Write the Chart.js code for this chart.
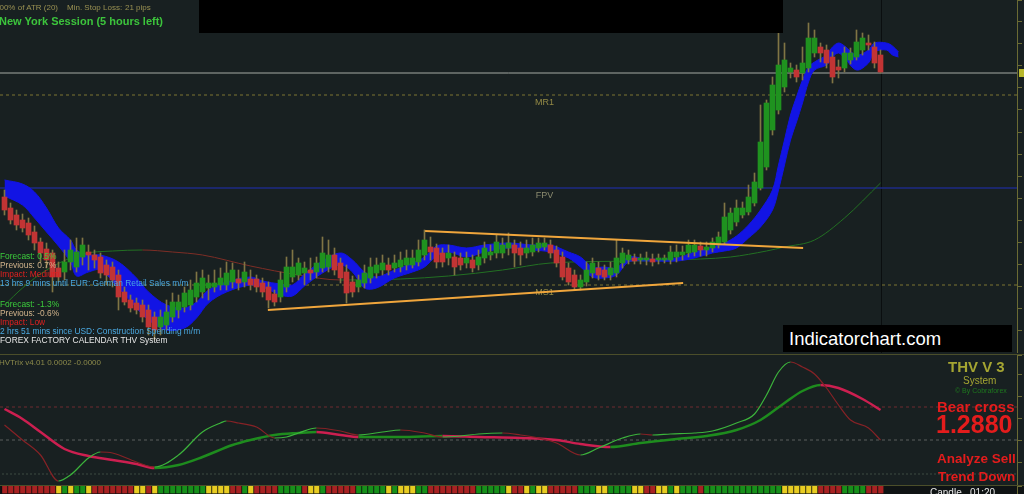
<!DOCTYPE html>
<html>
<head>
<meta charset="utf-8">
<script src="https://cdn.jsdelivr.net/npm/chart.js@4.4.0/dist/chart.umd.min.js"></script>
<style>
  html, body { margin: 0; padding: 0; }
  body { width: 1024px; height: 494px; overflow: hidden; position: relative; background: #182021;
         font-family: "Liberation Sans", Arial, sans-serif; }
  .pane { position: absolute; left: 0; width: 1024px; }
  .t { position: absolute; white-space: nowrap; line-height: 1; z-index: 5; }
  .info { font-size: 8.4px; left: 0; }
  .red { color: #e41c1c; font-weight: bold; }
</style>
</head>
<body>
<div class="pane" style="top:0;height:353px"><canvas id="priceChart" width="1024" height="353"></canvas></div>
<div class="pane" style="top:354px;height:1px;background:#4b4e2a"></div>
<div class="pane" style="top:355px;height:130px"><canvas id="oscChart" width="1024" height="130"></canvas></div>
<div class="pane" style="top:485px;height:1px;background:#4b4e2a"></div>
<div class="pane" style="top:486px;height:8px;background:#0f1314"><canvas id="stripChart" width="1024" height="8"></canvas></div>

<div style="position:absolute;left:199px;top:0;width:584px;height:33px;background:#000;z-index:4"></div>
<div class="t" style="left:-5px;top:4px;font-size:8px;color:#9a9152">600% of ATR (20)</div>
<div class="t" style="left:67px;top:4px;font-size:8px;color:#9a9152">Min. Stop Loss:</div>
<div class="t" style="left:125px;top:4px;font-size:8px;color:#9a9152">21 pips</div>
<div class="t" style="left:-1px;top:16px;font-size:11px;font-weight:bold;color:#3cc43c">New York Session (5 hours left)</div>

<div class="t info" style="top:252px;color:#3ccd3c">Forecast: 0.5%</div>
<div class="t info" style="top:261px;color:#d2b48c">Previous: 0.7%</div>
<div class="t info" style="top:270px;color:#e02020">Impact: Medium</div>
<div class="t info" style="top:279px;color:#4aa8e0">13 hrs 9 mins until EUR: German Retail Sales m/m</div>
<div class="t info" style="top:300px;color:#3ccd3c">Forecast: -1.3%</div>
<div class="t info" style="top:309px;color:#d2b48c">Previous: -0.6%</div>
<div class="t info" style="top:318px;color:#e02020">Impact: Low</div>
<div class="t info" style="top:327px;color:#4aa8e0">2 hrs 51 mins since USD: Construction Spending m/m</div>
<div class="t info" style="top:336px;color:#e6e6e6">FOREX FACTORY CALENDAR THV System</div>

<div style="position:absolute;left:783px;top:325px;width:229px;height:27px;background:#000;z-index:4"></div>
<div class="t" style="left:789px;top:330px;font-size:18.5px;color:#fff">Indicatorchart.com</div>

<div class="t" style="left:-1px;top:359px;font-size:8px;color:#8c8a4a">HVTrix v4.01 0.0002 -0.0000</div>
<div class="t" style="left:948px;top:359px;font-size:15px;font-weight:bold;color:#a5a532">THV V 3</div>
<div class="t" style="left:963px;top:376px;font-size:10px;color:#a5a532">System</div>
<div class="t" style="left:955px;top:387px;font-size:7px;color:#1e781e">© By Cobraforex</div>
<div class="t red" style="left:937px;top:399px;font-size:15px">Bear cross</div>
<div class="t red" style="left:936px;top:412px;font-size:25px">1.2880</div>
<div class="t red" style="left:937px;top:452px;font-size:13.5px">Analyze Sell</div>
<div class="t red" style="left:938px;top:470px;font-size:13.5px">Trend Down</div>
<div class="t" style="left:930px;top:488px;font-size:10px;color:#e8e8e8">Candle&nbsp;&nbsp;&nbsp;01:20</div>

<script>
// price in pips above base, one entry per candle
const openP = [155,144,137,132,129,120,110,103,99,84, 80,90,85,95,100,97,95,87,85,77,
  60,52,49,47,42,35,25,27,35,42, 45,47,55,60,64,65,67,67,70,73, 70,73,73,69,65,58,55,65,75,77,
  79,82,80,84,85,97,89,80,70,65, 69,74,79,82,87,84,85,87,87,90, 97,105,104,99,94,95,94,89,92,87,
  94,97,99,99,104,107,104,99,100,104, 105,107,102,95,84,77,65,70,79,84, 82,77,79,89,92,94,92,92,93,92,
  92,92,95,97,99,100,106,102,104,107, 110,122,130,137,140,149,164,185,222,242,
  265,280,282,279,284,299,305,302,295,285, 284,292,295,302,309,305,297];
const highP = [162,149,142,138,134,126,114,109,102,90, 102,112,114,114,107,102,99,92,90,82,
  65,57,54,52,47,40,42,52,59,57, 65,72,80,82,77,82,84,90,89,82, 90,82,77,74,70,62,80,95,102,94,
  90,94,95,115,112,104,94,87,76,77, 87,94,94,97,94,97,100,102,102,112, 122,115,108,104,107,100,99,100,97,102,
  110,107,117,114,119,112,110,112,114,114, 114,112,106,100,89,82,77,90,94,90, 87,90,112,104,102,98,98,100,98,98,
  97,106,107,106,112,112,110,110,114,120, 149,144,152,150,167,179,247,252,275,319,
  309,289,287,305,329,322,309,307,300,292, 305,304,322,319,317,310,302];
const lowP = [137,128,122,120,112,102,90,84,60,70, 72,82,80,87,82,84,74,67,65,42,
  47,40,38,30,17,12,17,22,30,34, 40,42,50,54,52,60,62,62,64,62, 65,62,60,55,44,46,50,60,70,72,
  67,72,74,80,80,77,69,49,55,60, 64,69,74,77,77,80,80,82,84,86, 92,92,84,85,87,77,82,84,80,82,
  89,92,94,94,97,85,87,94,96,100, 102,94,85,72,67,62,62,66,74,72, 72,72,75,84,88,88,88,87,86,88,
  89,88,90,92,95,96,96,96,100,104, 108,118,126,134,137,146,162,182,217,238,
  260,274,270,272,280,295,290,284,269,274, 280,288,292,297,302,284,279];
const closeP = [142,132,127,124,117,109,99,92,75,75, 90,102,100,107,97,92,79,77,72,55,
  50,44,42,35,25,22,35,40,50,50, 59,62,69,74,69,69,74,79,82,69, 80,67,65,60,52,50,72,85,85,89,
  84,79,89,99,97,82,74,59,60,72, 79,85,87,89,82,89,92,94,94,102, 112,100,90,90,99,85,87,94,84,95,
  104,100,110,107,109,99,97,104,107,109, 109,99,89,75,70,65,72,82,89,77, 75,84,94,99,97,91,94,94,90,94,
  94,100,100,100,107,107,102,105,110,115, 135,139,144,144,155,170,210,249,267,287,
  292,284,275,289,314,314,299,289,275,282, 299,299,310,314,307,289,280];

// blue trend cloud (candle index, upper edge, lower edge)
const cloudX = [0,3,5,7,9,11,12,14,16,19,22,24,27,30,32,34,37,41,43,46,48,50,53,56,58,60,62,65,68,70,
  72,74,77,80,84,88,91,94,96,98,100,102,104,107,112,115,118,120,122,124,126,128,129,130,131,132,133,134,135,
  137,138,139,140,142,144,145,147,148,149];
const cloudTop = [172,168,160,144,124,112,102,97,97,90,74,60,47,44,50,62,70,75,71,68,67,78,91,99,92,80,75,82,89,95,
  106,107,104,107,109,107,107,100,95,85,85,84,95,93,94,100,105,109,116,127,142,162,187,212,237,255,272,285,290,
  297,305,309,306,297,302,309,309,306,300];
const cloudBot = [156,147,134,120,106,90,76,80,82,64,44,32,22,24,34,49,60,67,65,57,56,66,79,87,80,64,64,74,80,85,
  96,100,95,100,104,102,100,94,85,75,74,77,90,91,91,94,99,101,104,114,125,142,162,187,212,230,249,270,282,
  287,295,299,294,282,289,300,302,297,295];

// long moving average
const maX = [0,3,7,13,18,23,28,33,41,49,56,66,74,83,91,105,116,121,127,130,135,140,146];
const maY = [47,64,82,98,101,102,100,97,86,77,72,73,76,82,89,91,93,95,101,105,112,134,169];

// triangle trendlines
const resistanceX = [70.1, 133.1], resistanceY = [121, 104];
const supportX = [43.9, 113.1], supportY = [42, 69];

// horizontal levels
const levelNames = ['MR1', 'FPV', 'MS1'];
const levelValues = [257, 164, 67];
const currentPrice = 279;
const separatorIndex = 146;

// HVTrix oscillator
const slowX = [0,3,6,10,14,18,22,25,29,33,38,41,45,49,52,56,59,66,73,79,86,92,96,101,106,112,117,122,126,130,133,136,139,143,146];
const slowY = [31,21,8,-9,-16,-20,-24,-28,-25,-17,-5,0,5,7,8,5,3,3,4,3,2,0,-4,-7,-3,1,4,10,20,37,49,55,52,41,30];
const fastX = [0,3,6,9,11,14,16,18,22,25,29,33,36,37,39,42,45,47,49,52,56,59,63,66,70,73,76,79,83,86,89,92,96,99,
  103,106,108,111,115,118,122,125,127,129,131,133,135,137,139,141,144,146];
const fastY = [15,0,-15,-41,-35,-18,-12,-13,-22,-27,-15,8,17,19,17,13,2,3,7,12,9,5,8,10,7,3,4,6,7,5,2,-3,-15,-8,
  2,6,5,6,7,9,17,26,45,68,78,73,66,52,35,20,12,0];
const oscLevels = [33, 0, -34];

// signal strip: R = sell, G = buy, Y = neutral
const signalStrip = Array.from('RRRRRRRRRYGYGGYRRRRRRRYYRYGGGGGGGGYYYYRRGYRRRRGGGGRYYGRRRRRGGGGGYGYYYGGRRRRRRRRGGGGGYRRYGYYRRRRRGGGYYGGGGYYRRYYGYGGGRGGGGGGGGGGGGGYYYYYYRRRRGGGGRRR');

const xMin = -0.75, xMax = 168.75;
const axisColor = '#6b6b34';
const pts = (xs, ys) => xs.map((x, i) => ({ x: x, y: ys[i] }));
const flat = v => [{ x: xMin - 1, y: v }, { x: xMax + 1, y: v }];
const idx = openP.map((_, i) => i);

function scalesFor(yMin, yMax, step) {
  return {
    x: { type: 'linear', min: xMin, max: xMax, display: false, offset: false },
    y: { position: 'right', min: yMin, max: yMax,
         ticks: { display: false, stepSize: step },
         grid: { drawOnChartArea: false, drawTicks: true, tickLength: 5, color: axisColor },
         border: { color: axisColor } }
  };
}
const base = {
  responsive: false, animation: false, events: [],
  layout: { padding: { right: 2 } },
  plugins: { legend: { display: false }, tooltip: { enabled: false } }
};

const priceDecor = {
  id: 'priceDecor',
  beforeDatasetsDraw(chart) {
    const { ctx, chartArea, scales: { x, y } } = chart;
    ctx.save();
    const sx = Math.round(x.getPixelForValue(separatorIndex)) + 0.5;
    ctx.strokeStyle = '#0a0e0f';
    ctx.lineWidth = 1;
    ctx.beginPath(); ctx.moveTo(sx, chartArea.top); ctx.lineTo(sx, chartArea.bottom); ctx.stroke();
    ctx.font = '9px "Liberation Sans", Arial, sans-serif';
    ctx.textAlign = 'center';
    ctx.textBaseline = 'top';
    levelNames.forEach((name, i) => {
      ctx.fillStyle = i === 1 ? '#8c8c70' : '#948a45';
      ctx.fillText(name, x.getPixelForValue(90), y.getPixelForValue(levelValues[i]) + 3);
    });
    ctx.restore();
  },
  afterDraw(chart) {
    const { ctx, chartArea, scales: { y } } = chart;
    ctx.fillStyle = '#b8b82c';
    ctx.fillRect(chartArea.right + 2, y.getPixelForValue(currentPrice) - 4, 6, 8);
  }
};

new Chart(document.getElementById('priceChart'), {
  type: 'bar',
  data: { datasets: [
    { type: 'line', data: flat(currentPrice), borderColor: '#a4a9a4', borderWidth: 1, pointRadius: 0, order: 20 },
    { type: 'line', data: flat(levelValues[0]), borderColor: '#7d7433', borderWidth: 1, borderDash: [3, 3], pointRadius: 0, order: 20 },
    { type: 'line', data: flat(levelValues[1]), borderColor: '#1c2a86', borderWidth: 1.5, pointRadius: 0, order: 20 },
    { type: 'line', data: flat(levelValues[2]), borderColor: '#7d7433', borderWidth: 1, borderDash: [3, 3], pointRadius: 0, order: 20 },
    { type: 'line', data: pts(maX, maY), borderWidth: 1, pointRadius: 0, cubicInterpolationMode: 'monotone', order: 15,
      segment: { borderColor: c => c.p1.parsed.y >= c.p0.parsed.y ? '#237023' : '#7e2e26' } },
    { type: 'line', data: pts(cloudX, cloudTop), borderColor: '#1214e4', backgroundColor: '#1214e4', borderWidth: 1,
      pointRadius: 0, tension: 0.35, fill: '+1', order: 10 },
    { type: 'line', data: pts(cloudX, cloudBot), borderColor: '#1214e4', borderWidth: 1, pointRadius: 0, tension: 0.35, order: 10 },
    { type: 'bar', data: idx.map(i => ({ x: i, y: [lowP[i], highP[i]] })), backgroundColor: '#807544',
      barThickness: 1, grouped: false, order: 3 },
    { type: 'bar', data: idx.map(i => ({ x: i, y: [openP[i], closeP[i]] })),
      backgroundColor: idx.map(i => closeP[i] >= openP[i] ? '#1f921f' : '#c23434'),
      barThickness: 5, grouped: false, order: 2 },
    { type: 'line', data: pts(resistanceX, resistanceY), borderColor: '#f0a63c', borderWidth: 2, pointRadius: 0, order: 1 },
    { type: 'line', data: pts(supportX, supportY), borderColor: '#f0a63c', borderWidth: 2, pointRadius: 0, order: 1 }
  ] },
  options: Object.assign({}, base, { scales: scalesFor(-1, 352, 22) }),
  plugins: [priceDecor]
});

new Chart(document.getElementById('oscChart'), {
  type: 'line',
  data: { datasets: [
    { data: flat(oscLevels[0]), borderColor: '#6e2a30', borderWidth: 1, borderDash: [3, 3], pointRadius: 0, order: 9 },
    { data: flat(oscLevels[1]), borderColor: '#5a5f5f', borderWidth: 1, borderDash: [3, 3], pointRadius: 0, order: 9 },
    { data: flat(oscLevels[2]), borderColor: '#3c4a42', borderWidth: 1, borderDash: [2, 2], pointRadius: 0, order: 9 },
    { data: pts(slowX, slowY), borderWidth: 2.5, pointRadius: 0, cubicInterpolationMode: 'monotone', order: 2,
      segment: { borderColor: c => c.p1.parsed.y >= c.p0.parsed.y ? '#1e8c1e' : '#cc1f50' } },
    { data: pts(fastX, fastY), borderWidth: 1.2, pointRadius: 0, cubicInterpolationMode: 'monotone', order: 1,
      segment: { borderColor: c => c.p1.parsed.y >= c.p0.parsed.y ? '#3cb43c' : '#862226' } }
  ] },
  options: Object.assign({}, base, { scales: scalesFor(-45, 85, 22) })
});

const stripColors = { R: '#a82222', G: '#17901a', Y: '#e8cc22' };
new Chart(document.getElementById('stripChart'), {
  type: 'bar',
  data: { datasets: [
    { data: signalStrip.map((s, i) => ({ x: i, y: 1 })), backgroundColor: signalStrip.map(s => stripColors[s]),
      borderColor: 'rgba(0,0,0,0.25)', borderWidth: { left: 1 }, borderSkipped: false, barThickness: 6 }
  ] },
  options: Object.assign({}, base, { scales: scalesFor(0, 1, 1) })
});
</script>
</body>
</html>
